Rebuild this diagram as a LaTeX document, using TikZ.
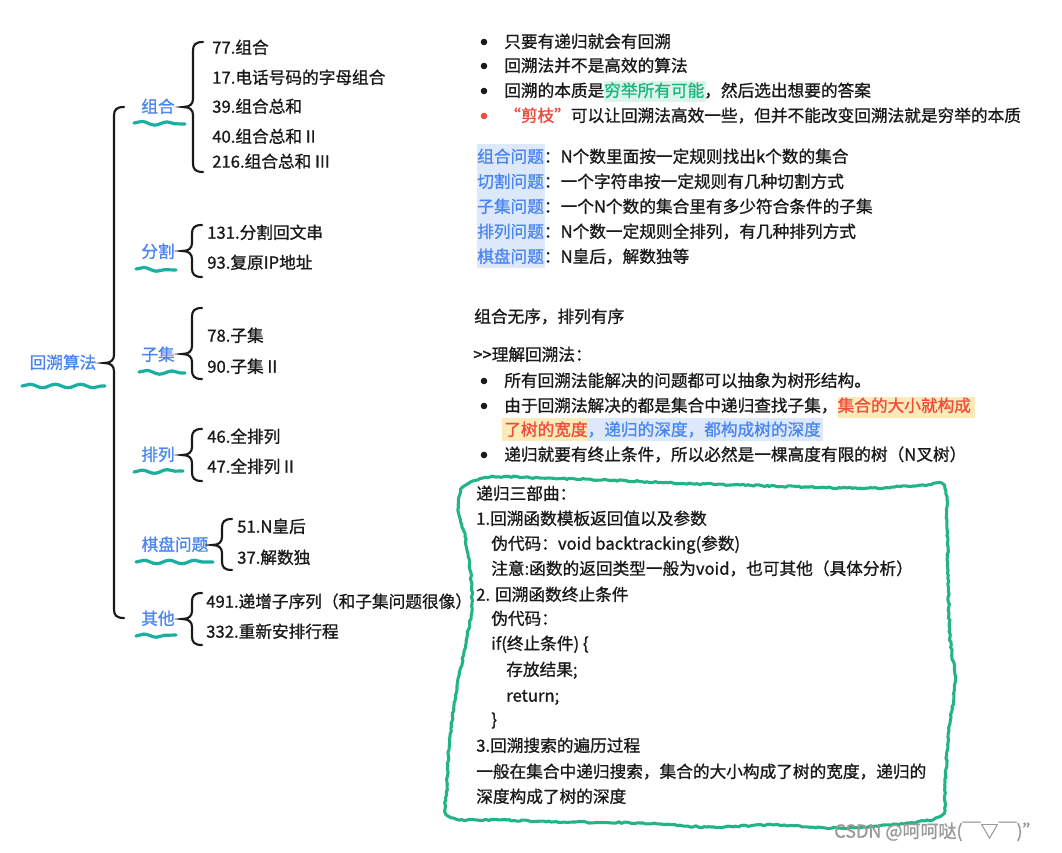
\documentclass[tikz,border=0pt]{standalone}
\usepackage{fontspec}
\setmainfont{Noto Sans CJK SC}[FakeBold=1.0]
\usetikzlibrary{decorations.pathmorphing}
\definecolor{tblue}{HTML}{4A86F0}
\definecolor{tealw}{HTML}{1BAFA0}
\definecolor{boxgreen}{HTML}{22B386}
\definecolor{inkc}{HTML}{1A1A1A}
\definecolor{redt}{HTML}{F04B3C}
\definecolor{greent}{HTML}{1DB47C}
\definecolor{greenbg}{HTML}{DCF5EA}
\definecolor{bluebg}{HTML}{DDE8FB}
\definecolor{yellowbg}{HTML}{FDEAB9}
\definecolor{wmgray}{HTML}{9A9A9A}
\newcommand\bracepath[4]{%
 \draw[bracestyle] ({#1+10},#2) .. controls ({#1+2},#2) and (#1,{#2+3}) .. (#1,{#2+9}) -- (#1,{#3-8}) .. controls (#1,{#3-3}) and ({#1-3},#3) .. ({#1-10},#3) .. controls ({#1-3},#3) and (#1,{#3+3}) .. (#1,{#3+8}) -- (#1,{#4-9}) .. controls (#1,{#4-3}) and ({#1+2},#4) .. ({#1+10},#4);}
\begin{document}
\begin{tikzpicture}[x=0.75pt,y=-0.75pt,
  every node/.style={font=\fontsize{12.5pt}{15pt}\selectfont, inner sep=0pt, text height=10.5pt, text depth=2pt, anchor=west, text=inkc},
  cat/.style={text=tblue, anchor=center},
  bracestyle/.style={draw=inkc, line width=1.6pt, line cap=round},
  wavy/.style={draw=tealw, line width=2.4pt, line cap=round, decorate, decoration={snake, amplitude=1.3pt, segment length=19pt}},
  bul/.style={fill=inkc},
  boxline/.style={draw=boxgreen, line width=2.3pt, line join=round, decorate, decoration={random steps, segment length=2pt, amplitude=0.6pt}},
  wm/.style={text=wmgray, font=\fontsize{13.5pt}{15pt}\selectfont}]
\useasboundingbox (0,0) rectangle (1062,852);
\fill[white] (0,0) rectangle (1062,852);

% ---------- left tree ----------
\node[cat] (root) at (63,363) {回溯算法};
\draw[wavy] (22,386) -- (105,386);
\bracepath{114}{107}{363}{618}

\node[cat] (c1) at (158,107) {组合};
\draw[wavy] (134,123) -- (185,124);
\bracepath{193}{42}{107}{172}
\node (i11) at (212,48) {77.组合};
\node (i12) at (212,78) {17.电话号码的字母组合};
\node (i13) at (212,107) {39.组合总和};
\node (i14) at (212,137) {40.组合总和 II};
\node (i15) at (212,162) {216.组合总和 III};

\node[cat] (c2) at (158,252) {分割};
\draw[wavy] (136,269) -- (176,270);
\bracepath{192}{225}{251}{277}
\node (i21) at (207,233) {131.分割回文串};
\node (i22) at (207,263) {93.复原IP地址};

\node[cat] (c3) at (158,355) {子集};
\draw[wavy] (139,372) -- (185,373);
\bracepath{192}{308}{354}{379}
\node (i31) at (207,336) {78.子集};
\node (i32) at (207,367) {90.子集 II};

\node[cat] (c4) at (158,455) {排列};
\draw[wavy] (134,472) -- (183,471);
\bracepath{192}{429}{455}{481}
\node (i41) at (207,437) {46.全排列};
\node (i42) at (207,467) {47.全排列 II};

\node[cat] (c5) at (175,545) {棋盘问题};
\draw[wavy] (136,562) -- (213,562);
\bracepath{222}{519}{545}{570}
\node (i51) at (237,527) {51.N皇后};
\node (i52) at (237,558) {37.解数独};

\node[cat] (c6) at (158,619) {其他};
\draw[wavy] (136,636) -- (176,635);
\bracepath{192}{593}{619}{645}
\node (i61) at (206,602) {491.递增子序列（和子集问题很像）};
\node (i62) at (206,632) {332.重新安排行程};

% ---------- right top ----------
\fill[greenbg] (604,81) rectangle (706,102);
\fill[bul] (484,42) circle (3.3);
\fill[bul] (484,66) circle (3.3);
\fill[bul] (484,91) circle (3.3);
\fill[redt] (484,116) circle (3.3);
\node (b1) at (504,42) {只要有递归就会有回溯};
\node (b2) at (504,66) {回溯法并不是高效的算法};
\node (b3) at (504,91) {回溯的本质是\textcolor{greent}{穷举所有可能}，然后选出想要的答案};
\node (b4) at (504,116) {{\color{redt}\makebox[1em][r]{“}剪枝\makebox[1em][l]{”}}可以让回溯法高效一些，但并不能改变回溯法就是穷举的本质};

\fill[bluebg] (477,144) rectangle (545,268);
\node (p1) at (477,157) {\textcolor{tblue}{组合问题}：N个数里面按一定规则找出k个数的集合};
\node (p2) at (477,182) {\textcolor{tblue}{切割问题}：一个字符串按一定规则有几种切割方式};
\node (p3) at (477,207) {\textcolor{tblue}{子集问题}：一个N个数的集合里有多少符合条件的子集};
\node (p4) at (477,232) {\textcolor{tblue}{排列问题}：N个数一定规则全排列，有几种排列方式};
\node (p5) at (477,257) {\textcolor{tblue}{棋盘问题}：N皇后，解数独等};

\node (o1) at (474,317) {组合无序，排列有序};
\node (u0) at (473,355) {>{}>理解回溯法：};
\fill[yellowbg] (838,397) rectangle (975,418);
\fill[yellowbg] (502,418) rectangle (587,441);
\fill[bluebg] (587,418) rectangle (823,441);
\fill[bul] (484,381) circle (3.3);
\fill[bul] (484,406) circle (3.3);
\fill[bul] (484,455) circle (3.3);
\node (u1) at (504,381) {所有回溯法能解决的问题都可以抽象为树形结构。};
\node (u2) at (504,406) {由于回溯法解决的都是集合中递归查找子集，\textcolor{redt}{集合的大小就构成}};
\node (u2b) at (504,430) {\textcolor{redt}{了树的宽度}\textcolor{tblue}{，递归的深度，都构成树的深度}};
\node (u3) at (504,455) {递归就要有终止条件，所以必然是一棵高度有限的树（N叉树）};

% ---------- green box ----------
\draw[boxline] plot[smooth cycle, tension=0.55] coordinates {
 (463,487) (490,477) (540,478) (607,480) (673,483) (740,485) (807,487) (873,488) (923,485) (944,486)
 (947,520) (948,570) (950,637) (955,683) (948,737) (945,787) (942,815)
 (907,823) (840,828) (773,825) (707,827) (640,823) (573,822) (507,820) (450,817)
 (447,787) (450,737) (457,687) (467,637) (472,603) (470,570) (465,537) (458,510)};
\node (s0) at (476,494) {递归三部曲：};
\node (s1) at (476,519) {1.回溯函数模板返回值以及参数};
\node (s2) at (491,544) {伪代码：void backtracking(参数)};
\node (s3) at (491,569) {注意:函数的返回类型一般为void，也可其他（具体分析）};
\node (s4) at (476,595) {2. 回溯函数终止条件};
\node (s5) at (491,619) {伪代码：};
\node (s6) at (491,644) {if(终止条件) \{};
\node (s7) at (506,670) {存放结果;};
\node (s8) at (506,696) {return;};
\node (s9) at (491,720) {\}};
\node (s10) at (476,746) {3.回溯搜索的遍历过程};
\node (s11) at (476,772) {一般在集合中递归搜索，集合的大小构成了树的宽度，递归的};
\node (s12) at (476,797) {深度构成了树的深度};

\node[wm] (wm) at (834,832) {CSDN @呵呵哒(￣▽￣)"};
\end{tikzpicture}
\end{document}
